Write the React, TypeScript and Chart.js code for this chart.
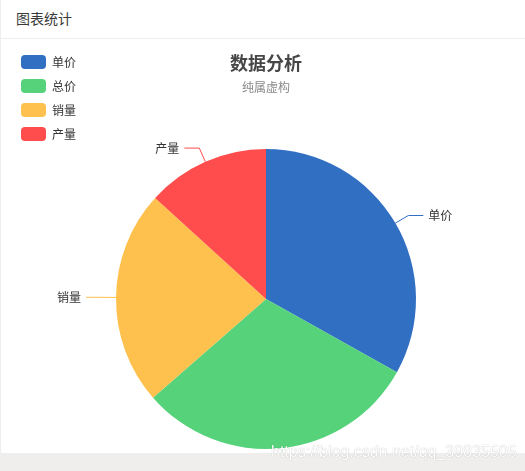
import { useEffect, useRef } from "react";
import { Chart, registerables } from "chart.js";

Chart.register(...registerables);

const labels = ["单价", "总价", "销量", "产量"];
const values = [50, 46, 35, 20];
const colors = ["#316fc2", "#55d27a", "#fec14e", "#ff4c4c"];

const FONT = "'Noto Sans CJK SC', 'Noto Sans', sans-serif";

// echarts-like outside labels with a two-part leader line
const outsideLabels = {
  id: "outsideLabels",
  afterDraw(chart: Chart) {
    const ctx = chart.ctx;
    const meta = chart.getDatasetMeta(0);
    ctx.save();
    ctx.font = `12px ${FONT}`;
    ctx.textBaseline = "middle";
    meta.data.forEach((arc: any, i: number) => {
      const { x, y, startAngle, endAngle, outerRadius } = arc.getProps(
        ["x", "y", "startAngle", "endAngle", "outerRadius"],
        true
      );
      const mid = (startAngle + endAngle) / 2;
      const cos = Math.cos(mid);
      const sin = Math.sin(mid);
      const x0 = x + outerRadius * cos;
      const y0 = y + outerRadius * sin;
      const x1 = x + (outerRadius + 15) * cos;
      const y1 = y + (outerRadius + 15) * sin;
      const dir = cos >= 0 ? 1 : -1;
      const x2 = x1 + dir * 15;
      ctx.strokeStyle = colors[i];
      ctx.lineWidth = 1;
      ctx.beginPath();
      ctx.moveTo(x0, y0);
      ctx.lineTo(x1, y1);
      ctx.lineTo(x2, y1);
      ctx.stroke();
      ctx.fillStyle = "#333";
      ctx.textAlign = dir > 0 ? "left" : "right";
      ctx.fillText(labels[i], x2 + dir * 5, y1);
    });
    ctx.restore();
  },
};

function PieChart() {
  const canvasRef = useRef<HTMLCanvasElement | null>(null);

  useEffect(() => {
    if (!canvasRef.current) return;
    const chart = new Chart(canvasRef.current, {
      type: "pie",
      data: {
        labels,
        datasets: [
          {
            data: values,
            backgroundColor: colors,
            borderWidth: 0,
            radius: 150,
          },
        ],
      },
      options: {
        animation: false,
        responsive: true,
        maintainAspectRatio: false,
        layout: { padding: { left: 7, right: 0, top: 0, bottom: 0 } },
        plugins: {
          legend: { display: false },
          tooltip: { enabled: false },
          title: {
            display: true,
            text: "数据分析",
            color: "#464646",
            font: { family: FONT, size: 18, weight: "bold" },
            padding: { top: 12, bottom: 0 },
          },
          subtitle: {
            display: true,
            text: "纯属虚构",
            color: "#8a8a8a",
            font: { family: FONT, size: 12 },
            padding: { top: 7, bottom: 50 },
          },
        },
      },
      plugins: [outsideLabels],
    });
    return () => chart.destroy();
  }, []);

  return <canvas ref={canvasRef} />;
}

export default function App() {
  return (
    <div
      style={{
        position: "relative",
        width: 525,
        height: 471,
        background: "#fff",
        overflow: "hidden",
        fontFamily: FONT,
      }}
    >
      <style>{"body{margin:0}"}</style>
      <div
        style={{
          height: 39,
          lineHeight: "37px",
          borderBottom: "1px solid #eeeeee",
          paddingLeft: 16,
          fontSize: 14,
          color: "#3a3a3a",
          boxSizing: "border-box",
        }}
      >
        图表统计
      </div>
      <div style={{ position: "absolute", left: 0, top: 40, width: 525, height: 413 }}>
        <PieChart />
      </div>
      <div style={{ position: "absolute", left: 21, top: 55 }}>
        {labels.map((l, i) => (
          <div key={l} style={{ display: "flex", alignItems: "center", height: 14, marginBottom: 10 }}>
            <span
              style={{
                display: "inline-block",
                width: 25,
                height: 14,
                borderRadius: 4,
                background: colors[i],
              }}
            />
            <span style={{ marginLeft: 6, fontSize: 12, color: "#333", lineHeight: "14px" }}>{l}</span>
          </div>
        ))}
      </div>
      <div style={{ position: "absolute", left: 0, top: 0, width: 1, height: 453, background: "#eeeeee" }} />
      <div style={{ position: "absolute", left: 0, top: 453, width: 525, height: 18, background: "#efeeec" }} />
      <div
        style={{
          position: "absolute",
          left: 271,
          top: 443,
          fontFamily: "'Liberation Sans', Arial, sans-serif",
          fontSize: 16,
          lineHeight: "18px",
          color: "#fff",
          textShadow: "0 0 1px rgba(0,0,0,0.35)",
          whiteSpace: "nowrap",
        }}
      >
        https://blog.csdn.net/qq_39835505
      </div>
    </div>
  );
}
